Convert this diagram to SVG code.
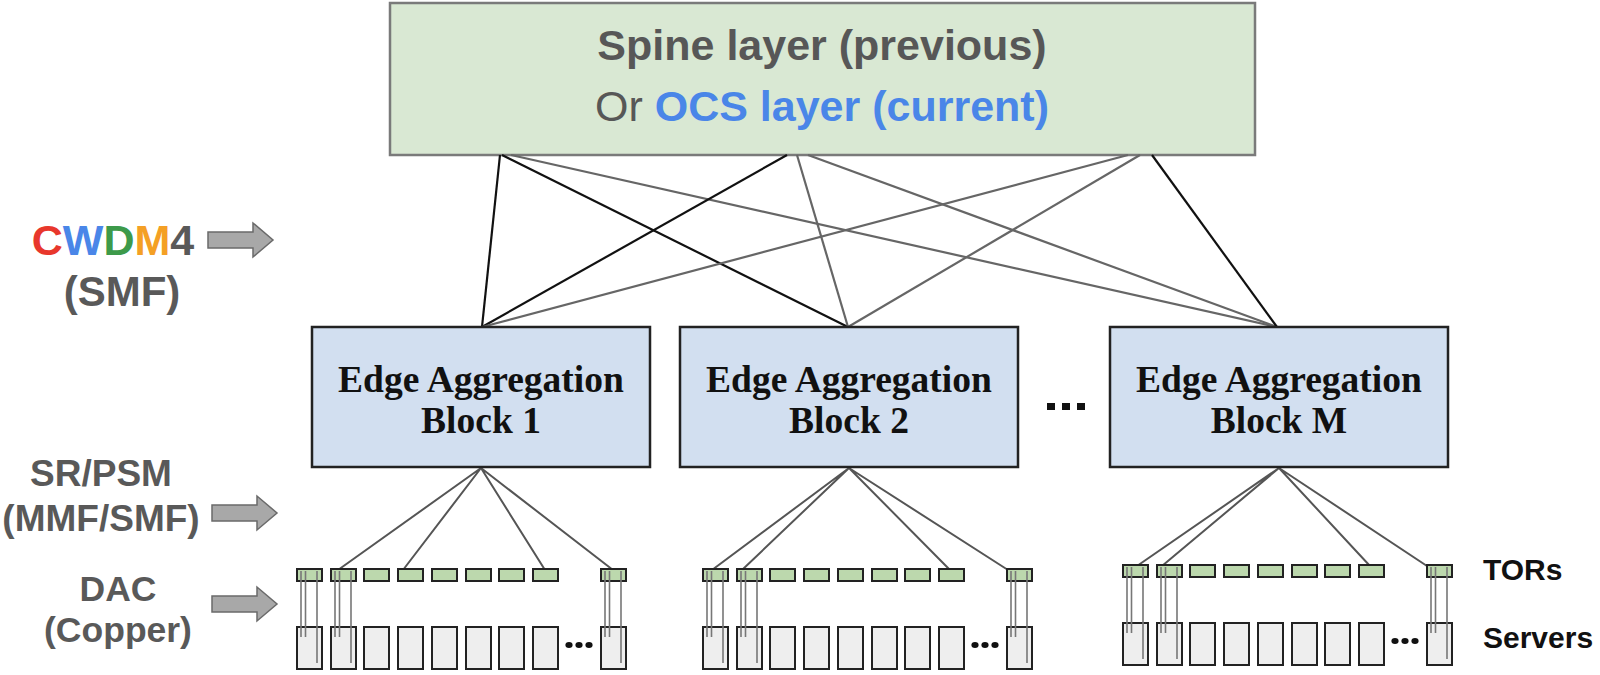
<svg xmlns="http://www.w3.org/2000/svg" xmlns:xlink="http://www.w3.org/1999/xlink" width="1600" height="675" viewBox="0 0 1600 675">
<style>
.spine{fill:#d9e8d3;stroke:#7a7a7a;stroke-width:2.5}
.edge{fill:#d2dff0;stroke:#222;stroke-width:2.5}
.tor{fill:#bcd8ad;stroke:#222;stroke-width:2}
.srv{fill:#eeeeee;stroke:#222;stroke-width:2}
.lk{stroke:#111;stroke-width:2.2;fill:none}
.lg{stroke:#666;stroke-width:2.2;fill:none}
.lt{stroke:#555;stroke-width:2;fill:none}
.vl{stroke:#777;stroke-width:1.6;fill:none}
.dot{fill:#111}
.lbl{font-family:"Liberation Sans",Arial,sans-serif;font-weight:bold;fill:#595959;text-anchor:middle}
.st{font-family:"Liberation Sans",Arial,sans-serif;font-size:43px;fill:#575757;text-anchor:middle}
.et{font-family:"Liberation Serif","Times New Roman",serif;font-weight:bold;font-size:37.5px;fill:#111;text-anchor:middle}
.rt{font-family:"Liberation Sans",Arial,sans-serif;font-weight:bold;font-size:30px;fill:#111}
.arrow{fill:#a8a8a8;stroke:#6a6a6a;stroke-width:1.5}
</style>
<defs>
<path id="arr" class="arrow" d="M0,-8 H45 V-17 L65,0 L45,17 V8 H0 Z"/>
<g id="rack">
<rect class="tor" x="0" y="0" width="25" height="12"/>
<rect class="tor" x="34" y="0" width="25" height="12"/>
<rect class="tor" x="67" y="0" width="25" height="12"/>
<rect class="tor" x="101" y="0" width="25" height="12"/>
<rect class="tor" x="135" y="0" width="25" height="12"/>
<rect class="tor" x="169" y="0" width="25" height="12"/>
<rect class="tor" x="202" y="0" width="25" height="12"/>
<rect class="tor" x="236" y="0" width="25" height="12"/>
<rect class="tor" x="304" y="0" width="25" height="12"/>
<rect class="srv" x="0" y="58" width="25" height="42"/>
<rect class="srv" x="34" y="58" width="25" height="42"/>
<rect class="srv" x="67" y="58" width="25" height="42"/>
<rect class="srv" x="101" y="58" width="25" height="42"/>
<rect class="srv" x="135" y="58" width="25" height="42"/>
<rect class="srv" x="169" y="58" width="25" height="42"/>
<rect class="srv" x="202" y="58" width="25" height="42"/>
<rect class="srv" x="236" y="58" width="25" height="42"/>
<rect class="srv" x="304" y="58" width="25" height="42"/>
<ellipse class="dot" cx="272" cy="76" rx="3.6" ry="3"/>
<ellipse class="dot" cx="282" cy="76" rx="3.6" ry="3"/>
<ellipse class="dot" cx="292" cy="76" rx="3.6" ry="3"/>
<path class="vl" d="M4,2 V68 M8.5,2 V68 M20,2 V94 M38,2 V68 M42.5,2 V68 M54,2 V94 M308,2 V68 M312.5,2 V68 M324,2 V94"/>
</g>
</defs>

<g id="spine">
<rect class="spine" x="390" y="3" width="865" height="152"/>
<text class="st" x="822" y="60" font-weight="bold">Spine layer (previous)</text>
<text class="st" x="822" y="121">Or <tspan font-weight="bold" fill="#4a86e8">OCS layer (current)</tspan></text>
</g>

<g id="connectors">
<line class="lk" x1="500" y1="155" x2="482" y2="327"/>
<line class="lk" x1="502" y1="155" x2="848" y2="327"/>
<line class="lg" x1="511" y1="155" x2="1277" y2="327"/>
<line class="lk" x1="787" y1="155" x2="482" y2="327"/>
<line class="lg" x1="797" y1="155" x2="848" y2="327"/>
<line class="lg" x1="808" y1="155" x2="1277" y2="327"/>
<line class="lg" x1="1128" y1="155" x2="482" y2="327"/>
<line class="lg" x1="1140" y1="155" x2="848" y2="327"/>
<line class="lk" x1="1152" y1="155" x2="1277" y2="327"/>
<path class="lt" d="M481,468 L338,570 M481,468 L403,570 M481,468 L545,570 M481,468 L613,570"/>
<path class="lt" d="M849,468 L712,570 M849,468 L742,570 M849,468 L950,570 M849,468 L1008,570"/>
<path class="lt" d="M1279,468 L1137,566 M1279,468 L1162,566 M1279,468 L1370,566 M1279,468 L1427,566"/>
</g>

<g id="edge1">
<rect class="edge" x="312" y="327" width="338" height="140"/>
<text class="et" x="481" y="392">Edge Aggregation</text>
<text class="et" x="481" y="433">Block 1</text>
</g>
<g id="edge2">
<rect class="edge" x="680" y="327" width="338" height="140"/>
<text class="et" x="849" y="392">Edge Aggregation</text>
<text class="et" x="849" y="433">Block 2</text>
</g>
<g id="edgeM">
<rect class="edge" x="1110" y="327" width="338" height="140"/>
<text class="et" x="1279" y="392">Edge Aggregation</text>
<text class="et" x="1279" y="433">Block M</text>
</g>
<g id="ellipsis">
<rect x="1047" y="403" width="8" height="7" fill="#111"/>
<rect x="1062" y="403" width="8" height="7" fill="#111"/>
<rect x="1077" y="403" width="8" height="7" fill="#111"/>
</g>

<g id="racks1"><use xlink:href="#rack" href="#rack" transform="translate(297,569)"/></g>
<g id="racks2"><use xlink:href="#rack" href="#rack" transform="translate(703,569)"/></g>
<g id="racksM"><use xlink:href="#rack" href="#rack" transform="translate(1123,565)"/></g>

<g id="labels">
<text class="lbl" x="113" y="255" font-size="43"><tspan fill="#e8372c">C</tspan><tspan fill="#4a86e8">W</tspan><tspan fill="#3d9a4a">D</tspan><tspan fill="#f4a025">M</tspan><tspan fill="#595959">4</tspan></text>
<text class="lbl" x="122" y="306" font-size="42">(SMF)</text>
<use xlink:href="#arr" href="#arr" transform="translate(208,240)"/>
<text class="lbl" x="101" y="486" font-size="37">SR/PSM</text>
<text class="lbl" x="101" y="531" font-size="37">(MMF/SMF)</text>
<use xlink:href="#arr" href="#arr" transform="translate(212,513)"/>
<text class="lbl" x="118" y="601" font-size="35.5">DAC</text>
<text class="lbl" x="118" y="642" font-size="35.5">(Copper)</text>
<use xlink:href="#arr" href="#arr" transform="translate(212,604)"/>
</g>

<g id="tors-label"><text class="rt" x="1483" y="580">TORs</text></g>
<g id="servers-label"><text class="rt" x="1483" y="648">Servers</text></g>
</svg>
